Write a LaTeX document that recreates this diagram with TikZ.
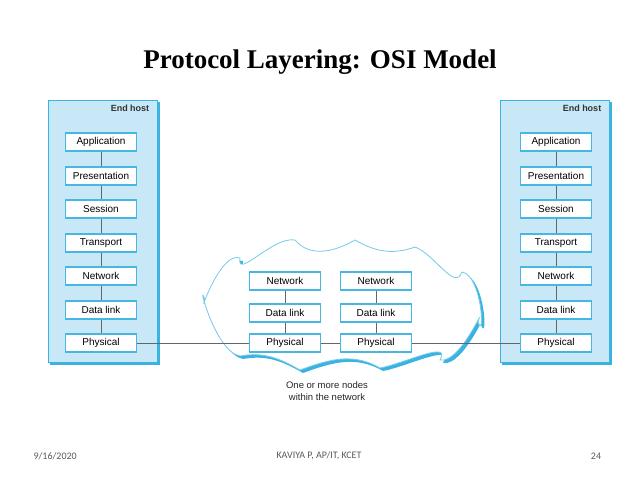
\documentclass[tikz,border=0pt]{standalone}
\usepackage{fontspec}
\setmainfont{Liberation Serif}
\newfontfamily\sans{Liberation Sans}
\newfontfamily\foot{Carlito}
\definecolor{panel}{HTML}{C8E8F7}
\definecolor{edge}{HTML}{3BB3E0}
\definecolor{boxedge}{HTML}{46B6E2}
\tikzset{
  layer/.style={draw=boxedge, line width=1.2pt, fill=white, minimum width=71pt, minimum height=18pt, inner sep=0pt, font=\sans\fontsize{10}{11}\selectfont},
  conn/.style={draw=gray!80!black, line width=0.6pt},
  ft/.style={font=\foot\fontsize{10}{11}\selectfont, text=gray!70!black}
}
\begin{document}
\begin{tikzpicture}[x=1pt,y=-1pt]
\useasboundingbox (0,0) rectangle (638,478);
\node[font=\bfseries\fontsize{27}{30}\selectfont] (title) at (320,62) {Protocol Layering: OSI Model};
% panels
\foreach \px in {48,500}{
  \fill[edge] (\px+2,102) rectangle (\px+112,365);
  \draw[edge, fill=panel, line width=0.8pt] (\px,100) rectangle (\px+109,362);
}
\node[font=\sans\bfseries\fontsize{9}{10}\selectfont, text=black!80] (ehL) at (130,108) {End host};
\node[font=\sans\bfseries\fontsize{9}{10}\selectfont, text=black!80] (ehR) at (582,108) {End host};
% cloud
\def\cloudpath{(205,300) to[out=-110,in=-200] (240,258) to[out=-100,in=-190] (295,240) to[out=-50,in=-150] (355,240) to[out=-30,in=-160] (415,247) to[out=-20,in=-110] (462,272) to[out=-10,in=-70] (478,322) to[out=70,in=-10] (440,360) to[out=60,in=10] (380,368) to[out=150,in=20] (300,370) to[out=150,in=10] (240,356) to[out=-190,in=110] (205,300) -- cycle}
\fill[edge, shift={(3,3)}] \cloudpath;
\draw[edge!70, fill=white, line width=0.8pt] \cloudpath;
\foreach \nm/\cx in {L/101,R/556}{
  \node[layer] (\nm1) at (\cx,142) {Application};
  \node[layer] (\nm2) at (\cx,176) {Presentation};
  \node[layer] (\nm3) at (\cx,209) {Session};
  \node[layer] (\nm4) at (\cx,243) {Transport};
  \node[layer] (\nm5) at (\cx,276) {Network};
  \node[layer] (\nm6) at (\cx,310) {Data link};
  \node[layer] (\nm7) at (\cx,343) {Physical};
  \foreach \a/\b in {1/2,2/3,3/4,4/5,5/6,6/7} \draw[conn] (\nm\a) -- (\nm\b);
}
\foreach \nm/\cx in {A/285,B/376}{
  \node[layer] (\nm1) at (\cx,281) {Network};
  \node[layer] (\nm2) at (\cx,313) {Data link};
  \node[layer] (\nm3) at (\cx,343) {Physical};
  \draw[conn] (\nm1) -- (\nm2);
  \draw[conn] (\nm2) -- (\nm3);
}
\draw[conn] (L7) -- (A3);
\draw[conn] (A3) -- (B3);
\draw[conn] (B3) -- (R7);
\node[font=\sans\fontsize{9.5}{12.5}\selectfont, align=center, text=black!85] (cap) at (327,391) {One or more nodes\\within the network};
\node[ft, anchor=west] (date) at (30,456) {9/16/2020};
\node[ft] (auth) at (319,456) {KAVIYA P, AP/IT, KCET};
\node[ft] (pg) at (596,456) {24};
\end{tikzpicture}
\end{document}
